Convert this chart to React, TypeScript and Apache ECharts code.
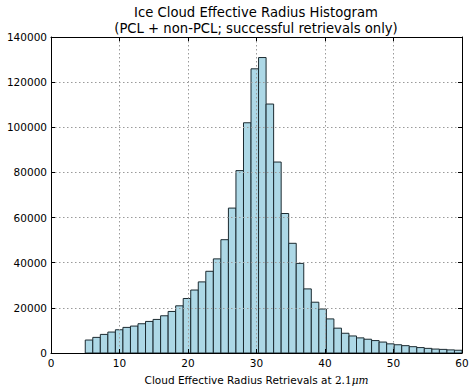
import React, { useEffect, useRef } from "react";
import * as echarts from "echarts";

// Histogram definition: 50 bins of width 1.1 from 5 to 60
const binStart = 5;
const binWidth = 1.1;
const counts = [
  5740, 6920, 8240, 9280, 10300, 11340, 11930, 12960, 13990, 14870,
  16490, 18400, 20900, 24150, 27900, 31500, 36200, 41700, 50200, 64200,
  80800, 102000, 125900, 130900, 110300, 84600, 61800, 48600, 39700, 28400,
  22500, 19500, 15100, 11000, 8750, 7550, 6700, 6100, 5500, 4850,
  4050, 3650, 3250, 2800, 2400, 2050, 1750, 1600, 1375, 1225,
];
const xTicks = { min: 0, max: 60, interval: 10 };
const yTicks = { min: 0, max: 140000, interval: 20000 };
const titleLines = [
  "Ice Cloud Effective Radius Histogram",
  "(PCL + non-PCL; successful retrievals only)",
];

const FONT = "DejaVu Sans";

export default function App() {
  const ref = useRef<HTMLDivElement>(null);
  useEffect(() => {
    document.body.style.margin = "0";
    const chart = echarts.init(ref.current!, undefined, { renderer: "svg" });
    const data = counts.map((c, i) => [
      binStart + i * binWidth,
      binStart + (i + 1) * binWidth,
      c,
    ]);
    const grid = {
      left: 51,
      right: 12,
      top: 37,
      bottom: 36,
    };
    const splitLine = {
      show: true,
      lineStyle: { color: "#9a9a9a", width: 1, type: [1.5, 2.5] as any },
    };
    chart.setOption({
      animation: false,
      backgroundColor: "#ffffff",
      grid: { ...grid, show: false },
      graphic: [
        {
          type: "text",
          x: 256,
          y: 12.5,
          style: {
            text: titleLines[0],
            font: `13.2px "${FONT}"`,
            fill: "#000",
            align: "center",
            verticalAlign: "middle",
          },
        },
        {
          type: "text",
          x: 256,
          y: 28.5,
          style: {
            text: titleLines[1],
            font: `13.2px "${FONT}"`,
            fill: "#000",
            align: "center",
            verticalAlign: "middle",
          },
        },
      ],
      xAxis: [
        {
          type: "value",
          position: "bottom",
          ...xTicks,
          z: 5,
          axisLine: { show: true, onZero: false, lineStyle: { color: "#000", width: 1 } },
          axisTick: { show: true, inside: true, length: 4, lineStyle: { color: "#000" } },
          axisLabel: {
            show: true,
            margin: 4,
            color: "#000",
            fontFamily: FONT,
            fontSize: 10.5,
            formatter: (v: number) => String(v),
          },
          splitLine,
          name: "{a|Cloud Effective Radius Retrievals at }{b|2.1}{c|μm}",
          nameLocation: "middle",
          nameGap: 21,
          nameTextStyle: {
            color: "#000",
            rich: {
              a: { fontFamily: FONT, fontSize: 10.5, color: "#000" },
              b: { fontFamily: "DejaVu Serif", fontSize: 10.5, color: "#000" },
              c: { fontFamily: "DejaVu Serif", fontStyle: "italic", fontSize: 10.5, color: "#000" },
            },
          },
        },
        {
          type: "value",
          position: "top",
          ...xTicks,
          z: 5,
          axisLine: { show: true, onZero: false, lineStyle: { color: "#000", width: 1 } },
          axisTick: { show: true, inside: true, length: 4, lineStyle: { color: "#000" } },
          axisLabel: { show: false },
          splitLine: { show: false },
        },
      ],
      yAxis: [
        {
          type: "value",
          position: "left",
          ...yTicks,
          z: 5,
          axisLine: { show: true, onZero: false, lineStyle: { color: "#000", width: 1 } },
          axisTick: { show: true, inside: true, length: 4, lineStyle: { color: "#000" } },
          axisLabel: {
            show: true,
            margin: 4,
            color: "#000",
            fontFamily: FONT,
            fontSize: 10.5,
            formatter: (v: number) => String(v),
          },
          splitLine,
        },
        {
          type: "value",
          position: "right",
          ...yTicks,
          z: 5,
          axisLine: { show: true, onZero: false, lineStyle: { color: "#000", width: 1 } },
          axisTick: { show: true, inside: true, length: 4, lineStyle: { color: "#000" } },
          axisLabel: { show: false },
          splitLine: { show: false },
        },
      ],
      series: [
        {
          type: "custom",
          xAxisIndex: 0,
          yAxisIndex: 0,
          z: 2,
          encode: { x: [0, 1], y: 2 },
          data,
          renderItem: (params: any, api: any) => {
            const s = api.value(0);
            const e = api.value(1);
            const v = api.value(2);
            const p0 = api.coord([s, v]);
            const p1 = api.coord([e, 0]);
            return {
              type: "rect",
              shape: {
                x: p0[0],
                y: p0[1],
                width: p1[0] - p0[0],
                height: p1[1] - p0[1],
              },
              style: { fill: "#add8e6", stroke: "#1b2a30", lineWidth: 1 },
            };
          },
        },
      ],
    });
    return () => chart.dispose();
  }, []);
  return <div ref={ref} style={{ width: 474, height: 390 }} />;
}
